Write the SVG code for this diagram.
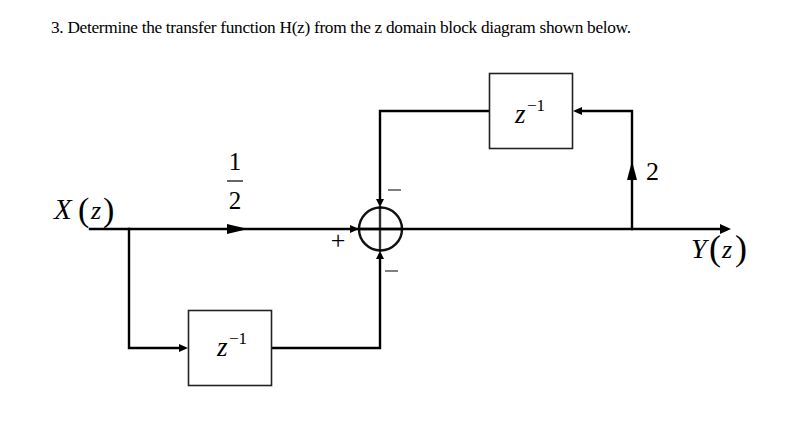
<svg xmlns="http://www.w3.org/2000/svg" width="791" height="442" viewBox="0 0 791 442">
<style>
text{font-family:"Liberation Serif","Times New Roman",serif;fill:#000}
.i{font-style:italic}
.w{fill:none;stroke:#000;stroke-width:2.4;stroke-linecap:square}
.b{fill:#fff;stroke:#222;stroke-width:1.6}
.a{fill:#000;stroke:none}
.t{stroke:#000;stroke-width:1.2;fill:none}
</style>
<rect width="791" height="442" fill="#fff"/>
<text id="title" x="51" y="33" font-size="17.300" textLength="580" lengthAdjust="spacing">3. Determine the transfer function H(z) from the z domain block diagram shown below.</text>
<g id="connectors">
<path class="w" d="M90 229H722"/>
<path class="w" d="M129 229V348H180"/>
<path class="w" d="M272 348H380V255"/>
<path class="w" d="M489 111H380V203"/>
<path class="w" d="M632 229V111H580"/>
<polygon class="a" points="227,224 248,229 227,234"/>
<polygon class="a" points="720,224 731,229 720,234"/>
<polygon class="a" points="179,344 188,348 179,352"/>
<polygon class="a" points="573,111 582,107 582,115"/>
<polygon class="a" points="632,161 637,180 627,180"/>
<polygon class="a" points="350,225 359,229 350,233"/>
<polygon class="a" points="376,199 384,199 380,207"/>
<polygon class="a" points="376,259 384,259 380,251"/>
</g>
<g id="sum">
<circle cx="380.500" cy="229" r="21.500" fill="none" stroke="#111" stroke-width="2.400"/>
<path class="w" d="M359 229H402M380 207V251" stroke-opacity="0.8"/>
</g>
<g id="delay-top">
<rect class="b" x="489.500" y="73.500" width="83" height="75"/>
<text class="i" x="515" y="123" font-size="27">z</text>
<text x="527" y="111" font-size="17">−1</text>
</g>
<g id="delay-bottom">
<rect class="b" x="188.500" y="310.500" width="83" height="75"/>
<text class="i" x="217" y="356" font-size="27">z</text>
<text x="229" y="344" font-size="17">−1</text>
</g>
<g id="gain-half">
<text x="235" y="170" font-size="25" text-anchor="middle">1</text>
<path class="t" d="M227 181H243"/>
<text x="235" y="209" font-size="25" text-anchor="middle">2</text>
</g>
<g id="gain-two"><text x="646" y="180" font-size="26">2</text></g>
<g id="labels">
<text class="i" x="54" y="219" font-size="29">X</text>
<text x="78" y="221" font-size="34">(</text>
<text class="i" x="91" y="219" font-size="26">z</text>
<text x="103" y="221" font-size="34">)</text>
<text class="i" x="691" y="258" font-size="28">Y</text>
<text x="709" y="259.500" font-size="36">(</text>
<text class="i" x="722" y="258" font-size="26">z</text>
<text x="735" y="259.500" font-size="36">)</text>
<text x="338" y="249" font-size="26" text-anchor="middle">+</text>
<path class="t" d="M388 190H401M385 271H398"/>
</g>
</svg>
